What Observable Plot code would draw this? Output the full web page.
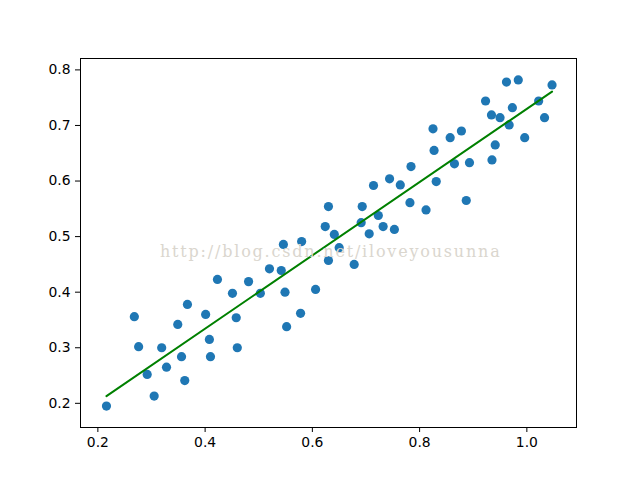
<!DOCTYPE html>
<html>
<head>
<meta charset="utf-8">
<script src="https://cdn.jsdelivr.net/npm/d3@7"></script>
<script src="https://cdn.jsdelivr.net/npm/@observablehq/plot@0.6"></script>
<style>
  body { margin: 0; background: #fff; }
  #wrap { position: relative; width: 640px; height: 480px; }
  #wm { position: absolute; left: 160px; top: 244px; font-family: "DejaVu Serif", "Liberation Serif", serif; font-size: 16px; line-height: 1; letter-spacing: 1.8px; color: #dad6ce; white-space: nowrap; pointer-events: none; }
</style>
</head>
<body>
<div id="wrap"><div id="wm">http://blog.csdn.net/iloveyousunna</div></div>
<script>
const xs = [0.216,0.268,0.276,0.292,0.305,0.319,0.328,0.349,0.356,0.362,0.367,0.401,0.408,0.410,0.423,0.451,0.458,0.460,0.481,0.503,0.520,0.542,0.546,0.549,0.552,0.578,0.580,0.606,0.624,0.630,0.630,0.641,0.650,0.678,0.691,0.693,0.706,0.714,0.723,0.732,0.744,0.753,0.764,0.782,0.784,0.812,0.825,0.827,0.831,0.857,0.865,0.878,0.887,0.893,0.923,0.934,0.935,0.941,0.950,0.962,0.967,0.973,0.984,0.996,1.022,1.033,1.047];
const ys = [0.195,0.356,0.302,0.252,0.213,0.300,0.265,0.342,0.284,0.241,0.378,0.360,0.315,0.284,0.423,0.398,0.354,0.300,0.419,0.398,0.442,0.439,0.486,0.400,0.338,0.362,0.491,0.405,0.518,0.554,0.457,0.504,0.480,0.450,0.525,0.554,0.505,0.592,0.538,0.518,0.604,0.513,0.593,0.561,0.626,0.548,0.694,0.655,0.599,0.678,0.631,0.690,0.565,0.633,0.744,0.719,0.638,0.665,0.714,0.778,0.701,0.732,0.782,0.678,0.744,0.714,0.773];
const lineX = [0.216, 1.047];
const lineY = [0.213, 0.761];
const xTicks = [0.2, 0.4, 0.6, 0.8, 1.0];
const yTicks = [0.2, 0.3, 0.4, 0.5, 0.6, 0.7, 0.8];

const pts = xs.map((x, i) => ({x, y: ys[i]}));
const fit = lineX.map((x, i) => ({x, y: lineY[i]}));

const chart = Plot.plot({
  width: 640,
  height: 480,
  marginLeft: 80,
  marginRight: 64,
  marginTop: 58,
  marginBottom: 53,
  style: { fontFamily: "DejaVu Sans", fontSize: "13.9px", color: "black", background: "transparent" },
  x: { domain: [0.1676, 1.0926], ticks: xTicks, tickFormat: d3.format(".1f"), label: null, tickSize: 5, tickPadding: 5 },
  y: { domain: [0.1565, 0.8205], ticks: yTicks, tickFormat: d3.format(".1f"), label: null, tickSize: 5, tickPadding: 5 },
  marks: [
    Plot.dot(pts, { x: "x", y: "y", r: 4.6, fill: "#1f77b4", stroke: "none" }),
    Plot.line(fit, { x: "x", y: "y", stroke: "#008000", strokeWidth: 2 }),
    Plot.frame({ stroke: "black", strokeWidth: 1 })
  ]
});
chart.style.position = "absolute";
chart.style.left = "0";
chart.style.top = "0";
document.getElementById("wrap").prepend(chart);
</script>
</body>
</html>
